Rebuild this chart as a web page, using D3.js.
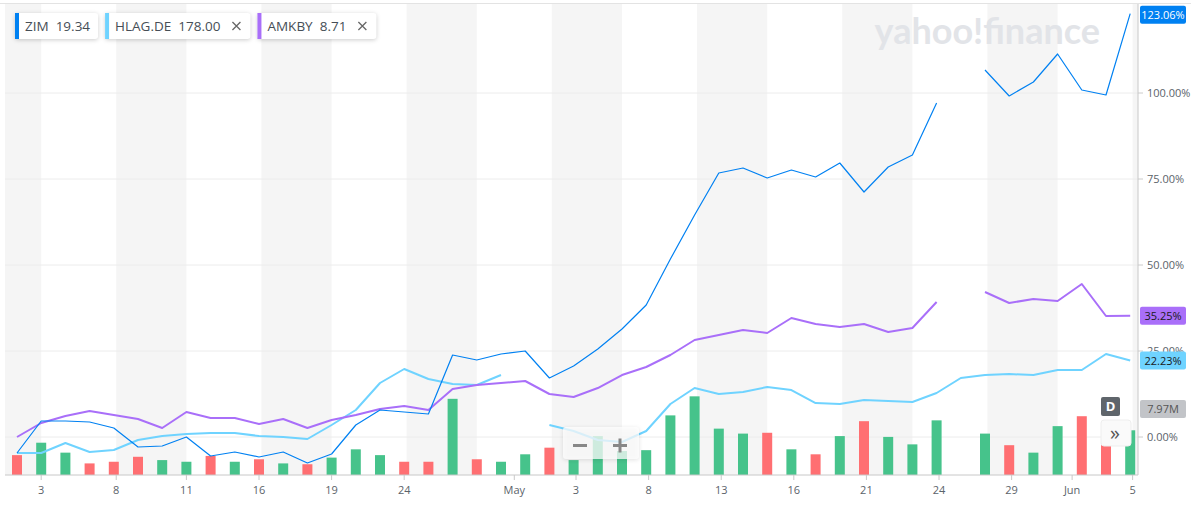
<!DOCTYPE html>
<html><head><meta charset="utf-8">
<script src="https://cdn.jsdelivr.net/npm/d3@7"></script>
<style>body{margin:0;background:#fff;font-family:"Open Sans",Arial,sans-serif}</style>
</head><body><svg id="c" width="1191" height="505"></svg>
<script>
const zim=[-4.65,4.65,4.65,4.36,2.62,-2.91,-2.62,0,-5.52,-4.36,-5.81,-4.36,-7.56,-4.94,3.49,7.85,7.27,6.69,23.84,22.38,24.13,25.0,17.15,20.64,25.58,31.4,38.37,51.74,64.53,76.74,78.2,75.29,77.62,75.58,79.65,71.22,78.49,81.98,97.09,null,106.69,99.13,103.2,111.34,100.87,99.42,123.06];
const hlag=[-4.65,-4.65,-1.74,-4.36,-3.78,-0.87,0.29,0.87,1.16,1.16,0.29,0,-0.58,3.49,7.85,15.7,19.77,16.86,15.41,15.12,18.02,null,3.49,1.74,-0.87,-1.45,1.74,9.59,14.24,12.5,13.08,14.53,13.66,9.88,9.59,10.76,10.47,10.17,12.79,17.15,18.02,18.31,18.02,19.48,19.48,24.13,22.23];
const amkby=[0,4.07,6.1,7.56,6.4,5.23,2.62,7.27,5.52,5.52,3.78,5.23,2.62,4.94,6.4,8.14,9.01,7.85,13.95,15.12,15.7,16.28,12.5,11.63,14.24,18.02,20.35,23.84,28.2,29.65,31.1,30.23,34.59,32.85,31.98,32.85,30.52,31.69,39.24,null,42.15,38.95,40.12,39.53,44.48,35.17,35.25];
const volume=[2.4,3.9,2.7,1.4,1.6,2.2,1.8,1.6,2.3,1.6,1.9,1.4,1.3,2.1,3.1,2.4,1.6,1.6,9.2,1.9,1.6,2.5,3.3,1.8,4.7,2.9,3.0,7.2,9.5,5.6,5.0,5.1,3.1,2.5,4.7,6.5,4.6,3.7,6.6,null,5.0,3.6,2.7,5.9,7.1,4.1,5.4];
const volUp=[0,1,1,0,0,0,1,1,0,1,0,1,0,1,1,1,0,0,1,0,1,1,0,1,1,1,1,1,1,1,1,0,1,0,1,0,1,1,1,null,1,0,1,1,0,0,1];
const tickLabels=["3","8","11","16","19","24","May","3","8","13","16","21","24","29","Jun","5"];
const tickPos=[1,4.1,7,10,13,16,20.55,23.1,26.1,29.1,32.1,35.1,38.1,41.1,43.6,46.1];
const yTicks=[0,25,50,75,100];
const legend=[["ZIM","19.34","#0081f2",false],["HLAG.DE","178.00","#6fd3ff",true],["AMKBY","8.71","#a96ff9",true]];

const svg=d3.select("#c");
const L=5,R=1138,T=4,B=475;
const x=d3.scaleLinear().domain([0,46]).range([17,17+24.2*46]);
const y=d3.scaleLinear().domain([0,100]).range([437,93]);
const vy=d3.scaleLinear().domain([0,10]).range([B,B-82.8]);
// bands
for(let s=-2;s<47;s+=6){
  const a=Math.max(L,x(s+0.1)),b=Math.min(R,x(s+3));
  if(b>a) svg.append("rect").attr("x",a).attr("y",T).attr("width",b-a).attr("height",B-T).attr("fill","#f5f5f5");
}
svg.append("line").attr("x1",0).attr("x2",1191).attr("y1",3.5).attr("y2",3.5).attr("stroke","#e3e3e3");
yTicks.forEach(t=>{
  svg.append("line").attr("x1",L).attr("x2",R).attr("y1",y(t)).attr("y2",y(t)).attr("stroke","#ececec");
  svg.append("line").attr("x1",R).attr("x2",R+5).attr("y1",y(t)).attr("y2",y(t)).attr("stroke","#ccc");
  svg.append("text").attr("x",R+9).attr("y",y(t)+4).text(t.toFixed(2)+"%").attr("font-size",11).attr("fill","#5b636a");
});
// watermark
svg.append("text").attr("x",1100).attr("y",44).attr("text-anchor","end").attr("font-size",36).attr("font-weight","bold").attr("fill","#e2e4e8").attr("font-family","Lato,sans-serif").text("yahoo!finance");
// volume
volume.forEach((v,i)=>{ if(v==null)return;
  svg.append("rect").attr("x",x(i)-5).attr("y",vy(v)).attr("width",10).attr("height",B-vy(v)).attr("fill",volUp[i]?"#46c38b":"#ff6f72");
});
const line=d3.line().defined(d=>d!=null).x((d,i)=>x(i)).y(d=>y(d));
function draw(data,c,w){svg.append("path").datum(data).attr("d",line).attr("fill","none").attr("stroke",c).attr("stroke-width",w).attr("stroke-linejoin","round");}
draw(hlag,"#6fd3ff",2);draw(amkby,"#a96ff9",2);draw(zim,"#0081f2",1.2);
// axes
svg.append("line").attr("x1",L).attr("x2",R).attr("y1",B).attr("y2",B).attr("stroke","#c8c8c8");
svg.append("line").attr("x1",R).attr("x2",R).attr("y1",T).attr("y2",B).attr("stroke","#c8c8c8");
tickLabels.forEach((t,i)=>{
  const px=x(tickPos[i]);
  svg.append("line").attr("x1",px).attr("x2",px).attr("y1",B).attr("y2",B+5).attr("stroke","#c8c8c8");
  svg.append("text").attr("x",px).attr("y",494).attr("text-anchor","middle").attr("font-size",11).attr("fill","#5b636a").text(t);
});
// right labels
function tag(v,bg,fg,yy,txt){
  svg.append("rect").attr("x",1140).attr("y",yy-9).attr("width",46).attr("height",18).attr("rx",2).attr("fill",bg);
  svg.append("text").attr("x",1163).attr("y",yy+4).attr("text-anchor","middle").attr("font-size",11).attr("fill",fg).text(txt);
}
tag(0,"#0081f2","#fff",y(123.06)+1,"123.06%");
tag(0,"#a96ff9","#1a1a1a",y(35.25),"35.25%");
tag(0,"#6fd3ff","#1a1a1a",y(22.23),"22.23%");
tag(0,"#c2c4c8","#555",vy(7.97),"7.97M");
// D badge and >> button
svg.append("rect").attr("x",1101).attr("y",397).attr("width",19).attr("height",19).attr("rx",2).attr("fill","#5f656b");
svg.append("text").attr("x",1110.5).attr("y",411).attr("text-anchor","middle").attr("font-size",13).attr("font-weight","bold").attr("fill","#fff").text("D");
svg.append("rect").attr("x",1101).attr("y",420).attr("width",30).attr("height",26).attr("rx",3).attr("fill","#fafafa").attr("stroke","#eee");
svg.append("text").attr("x",1115).attr("y",440).attr("text-anchor","middle").attr("font-size",20).attr("fill","#555").text("»");
// zoom widget
svg.append("rect").attr("x",563).attr("y",427).attr("width",76).attr("height",32).attr("rx",3).attr("fill","rgba(255,255,255,0.75)").style("filter","drop-shadow(0 1px 2px rgba(0,0,0,0.15))");
svg.append("rect").attr("x",573).attr("y",444).attr("width",14).attr("height",3).attr("fill","#888");
svg.append("rect").attr("x",613).attr("y",444).attr("width",14).attr("height",3).attr("fill","#888");
svg.append("rect").attr("x",618.5).attr("y",438.5).attr("width",3).attr("height",14).attr("fill","#888");
// legend
let lx=15;
legend.forEach(([n,v,c,cl])=>{
  const g=svg.append("g");
  const t=g.append("text").attr("x",lx+10).attr("y",31).attr("font-size",13.5).attr("fill","#464e56").text(n+"  "+v);
  t.attr("xml:space","preserve");
  const w=t.node().getComputedTextLength()+ (cl?40:18);
  g.insert("rect","text").attr("x",lx).attr("y",13).attr("width",w).attr("height",26).attr("rx",3).attr("fill","#fff").style("filter","drop-shadow(0 1px 2px rgba(0,0,0,0.2))");
  g.insert("rect","text").attr("x",lx).attr("y",13).attr("width",4).attr("height",26).attr("fill",c);
  if(cl){const cx=lx+w-14;g.append("path").attr("d",`M${cx-4},${22}L${cx+4},${30}M${cx+4},${22}L${cx-4},${30}`).attr("stroke","#666").attr("stroke-width",1.3);}
  lx+=w+7;
});
</script></body></html>
